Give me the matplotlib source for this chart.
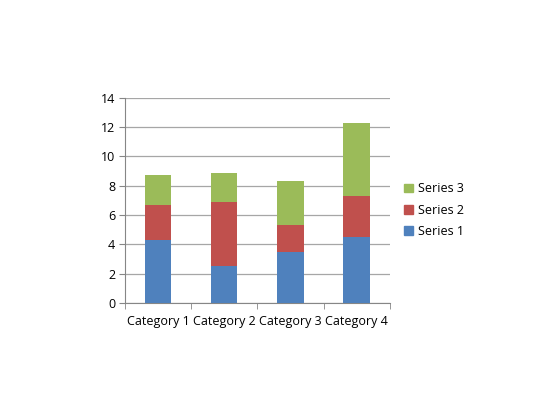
import matplotlib
matplotlib.use("Agg")
import numpy as np
import matplotlib.pyplot as plt
from matplotlib.patches import Patch

categories = ["Category 1", "Category 2", "Category 3", "Category 4"]
series_names = ["Series 1", "Series 2", "Series 3"]
series1 = [4.3, 2.5, 3.5, 4.5]
series2 = [2.4, 4.4, 1.8, 2.8]
series3 = [2.0, 2.0, 3.0, 5.0]
colors = ["#4F81BD", "#C0504D", "#9BBB59"]

plt.rcParams["font.family"] = ["Open Sans", "DejaVu Sans"]

fig = plt.figure(figsize=(5.6, 4.2), dpi=100)
ax = fig.add_axes([0.223, 0.279, 0.473, 0.488])

x = np.arange(len(categories))
bottom = np.zeros(len(categories))
for vals, c in zip([series1, series2, series3], colors):
    ax.bar(x, vals, width=0.4, bottom=bottom, color=c, zorder=3)
    bottom += np.array(vals)

ax.set_xlim(-0.5, 3.5)
ax.set_ylim(0, 14)
ax.set_yticks(range(0, 15, 2))
ax.yaxis.grid(True, color="#A6A6A6", linewidth=0.9, zorder=0)
ax.set_xticks(x)
ax.set_xticklabels(categories, fontsize=9)
ax.set_xticks(np.arange(-0.5, 4, 1), minor=True)
ax.tick_params(axis="x", which="major", length=0, pad=9)
ax.tick_params(axis="x", which="minor", length=4, color="#868686")
ax.tick_params(axis="y", length=4, color="#868686", labelsize=9, pad=3)
for s in ["top", "right"]:
    ax.spines[s].set_visible(False)
for s in ["left", "bottom"]:
    ax.spines[s].set_color("#868686")

handles = [Patch(color=c, label=n) for c, n in zip(colors, series_names)]
fig.legend(handles=handles[::-1], loc="center left", bbox_to_anchor=(0.702, 0.5),
           frameon=False, fontsize=9, handlelength=0.7, handleheight=0.7,
           handletextpad=0.4, labelspacing=0.65)

fig.savefig("out.png", dpi=100)
